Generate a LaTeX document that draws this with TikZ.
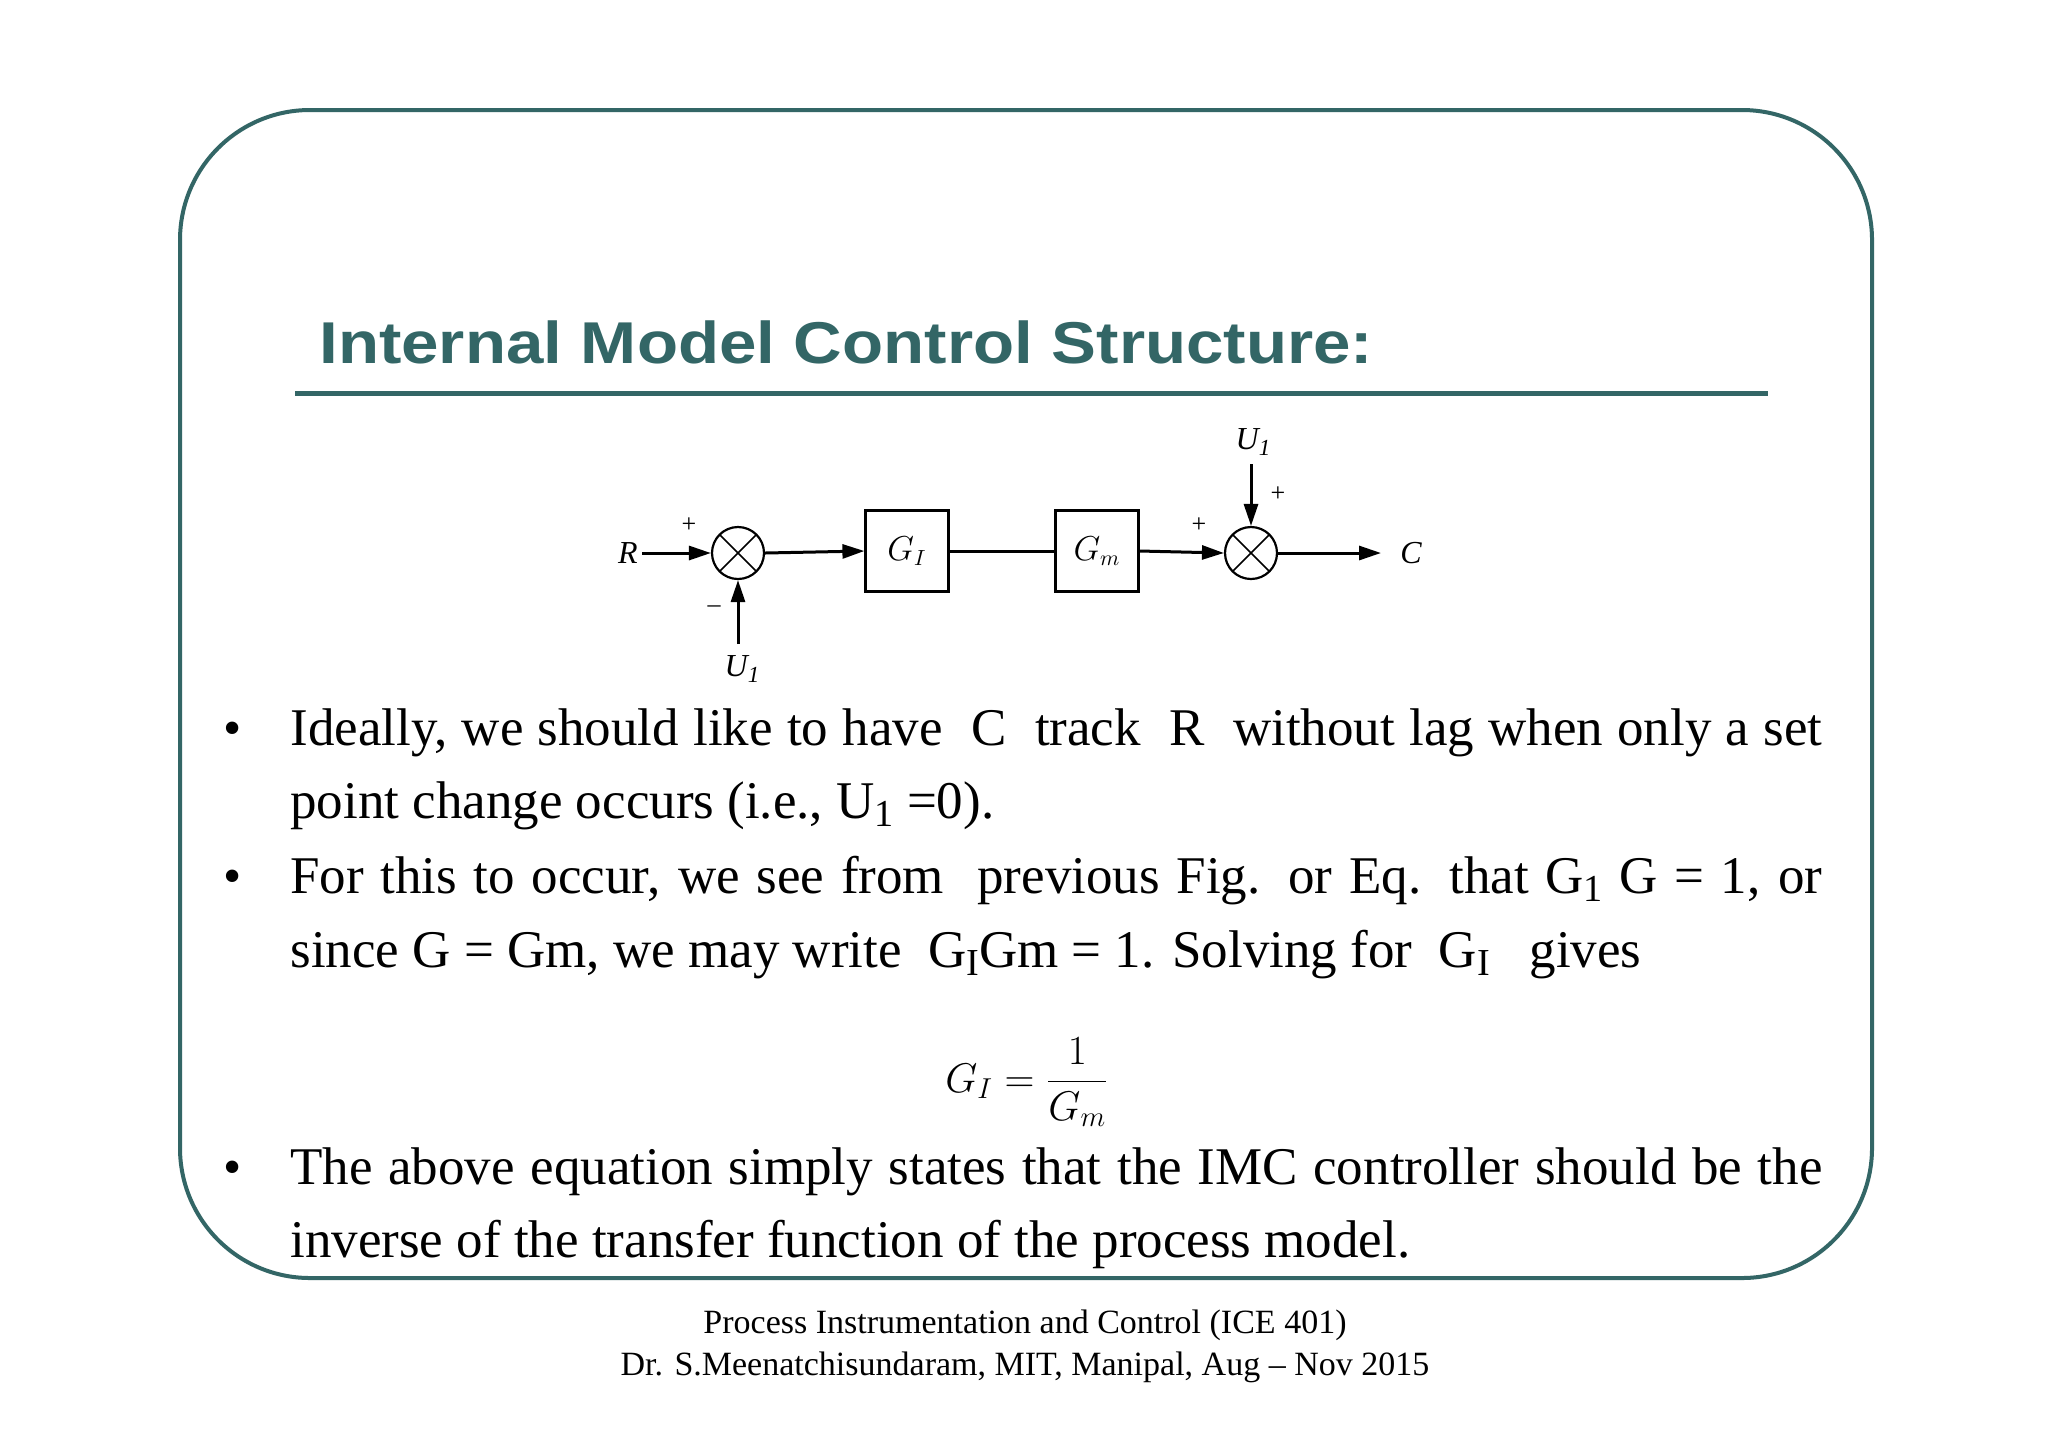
\documentclass[tikz,border=0pt]{standalone}
\usepackage{graphicx}
\usepackage{fontspec}
\setmainfont{Liberation Serif}
\setsansfont{Liberation Sans}
\usetikzlibrary{arrows.meta}
\definecolor{teal1}{RGB}{51,102,102}
\newcommand{\lowsub}[1]{\raisebox{-0.35ex}{\scalebox{0.72}{#1}}}
\begin{document}
\begin{tikzpicture}[x=0.5pt,y=-0.5pt,
  sumnode/.style={circle,draw,line width=1.1pt,minimum size=26pt,inner sep=0pt,
    path picture={\draw[line width=0.8pt] (path picture bounding box.north west)--(path picture bounding box.south east) (path picture bounding box.north east)--(path picture bounding box.south west);}},
  blk/.style={draw,line width=1.1pt,minimum width=41.5pt,minimum height=40.5pt,inner sep=0pt,font=\fontsize{16}{18}\selectfont\itshape},
  sig/.style={line width=1.5pt,-{Triangle[length=11pt,width=7pt]}},
  lab/.style={font=\fontsize{16}{18}\selectfont\itshape},
  sgn/.style={font=\fontsize{13}{14}\selectfont},
  body/.style={anchor=base west,inner sep=0pt,font=\fontsize{26.5}{30}\selectfont},
  bul/.style={anchor=base,inner sep=0pt,font=\fontsize{26}{30}\selectfont}]
\useasboundingbox (0,0) rectangle (2048,1447);
\fill[white] (0,0) rectangle (2048,1447);
\draw[teal1,line width=2pt,rounded corners=65pt] (180,110) rectangle (1872,1278);
\node[anchor=base west,inner sep=0pt,text=teal1,font=\sffamily\bfseries\fontsize{29.5}{32}\selectfont] (title) at (319,363) {\scalebox{1.14}[1]{Internal Model Control Structure:}};
\draw[teal1,line width=2.5pt] (295,393) -- (1768,393);
% diagram
\node[sumnode] (s1) at (738,553) {};
\node[blk] (gi) at (907,551) {$G_I$};
\node[blk] (gm) at (1097,551) {$G_m$};
\node[sumnode] (s2) at (1251,553) {};
\node[lab,anchor=east,inner sep=2pt] (R) at (642,553) {R};
\coordinate (Cend) at (1381,553);
\node[lab,anchor=west,inner sep=2pt] (C) at (1396,553) {C};
\node[lab] (u1b) at (742,669) {U\lowsub{1}};
\node[lab] (u1t) at (1253,442) {U\lowsub{1}};
\coordinate (ub) at (738,644);
\coordinate (ut) at (1251,464);
\draw[sig] (R.east) -- (s1.west);
\draw[sig] (s1.east) -- (gi.west);
\draw[line width=1.5pt] (gi.east) -- (gm.west);
\draw[sig] (gm.east) -- (s2.west);
\draw[sig] (s2.east) -- (Cend);
\draw[sig] (ub) -- (s1.south);
\draw[sig] (ut) -- (s2.north);
\node[sgn] (p1) at (689,525) {+};
\node[sgn] (m1) at (714,609) {--};
\node[sgn] (p2) at (1199,525) {+};
\node[sgn] (p3) at (1278,494) {+};
% bullets
\foreach \y in {745,893,1184}{\node[bul] at (233,\y) {\textbullet};}
\node[body] (l1) at (290,745) {\makebox[766pt][s]{Ideally, we should like to have \ C \ track \ R \ without lag when only a set}};
\node[body] (l2) at (290,818) {point change occurs (i.e., U\lowsub{1} =0).};
\node[body] (l3) at (290,893) {\makebox[766pt][s]{For this to occur, we see from \ previous Fig. or Eq. that G\lowsub{1} G = 1, or}};
\node[body] (l4) at (290,967) {since G = Gm, we may write \ G\lowsub{I}Gm = 1. Solving for \ G\lowsub{I} \ \ gives};
\node[inner sep=0pt,font=\fontsize{21}{24}\selectfont] (eq) at (1027,1082) {$\displaystyle G_I=\frac{1}{G_m}$};
\node[body] (l5) at (290,1184) {\makebox[766pt][s]{The above equation simply states that the IMC controller should be the}};
\node[body] (l6) at (290,1257) {inverse of the transfer function of the process model.};
% footer
\node[anchor=base,inner sep=0pt,font=\fontsize{17}{19}\selectfont] (f1) at (1025,1333) {Process Instrumentation and Control (ICE 401)};
\node[anchor=base,inner sep=0pt,font=\fontsize{17}{19}\selectfont] (f2) at (1025,1375) {Dr. S.Meenatchisundaram, MIT, Manipal, Aug -- Nov 2015};
\end{tikzpicture}
\end{document}
